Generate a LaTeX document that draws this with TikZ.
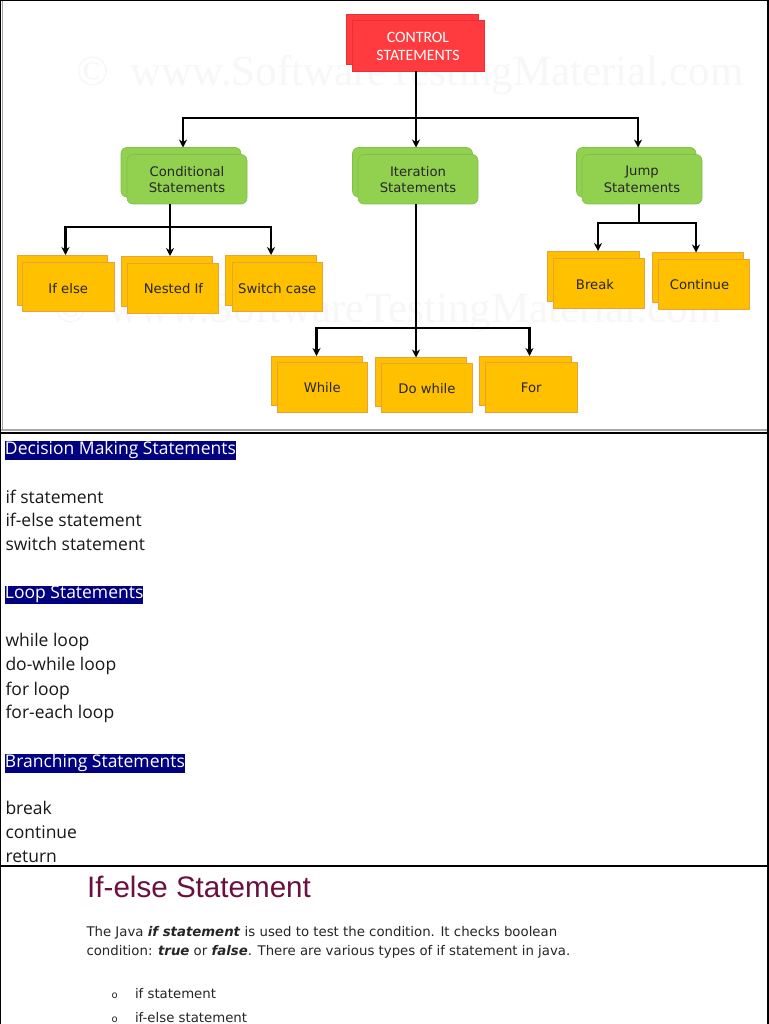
\documentclass[tikz,border=0pt]{standalone}
\usepackage{fontspec}
\setmainfont{DejaVu Sans}
\newfontfamily\calfont{Carlito}
\newfontfamily\notefont{Open Sans}
\newfontfamily\headfont{Liberation Sans}
\newfontfamily\markfont{Liberation Serif}
\usetikzlibrary{arrows.meta}
\definecolor{redfill}{HTML}{FF3B3F}
\definecolor{redline}{HTML}{E8303A}
\definecolor{greenfill}{HTML}{92D050}
\definecolor{greenline}{HTML}{7FBF4A}
\definecolor{orangefill}{HTML}{FFC000}
\definecolor{orangeline}{HTML}{E8A23C}
\definecolor{navyfill}{HTML}{000080}
\definecolor{titlecol}{HTML}{6B0F3F}
\definecolor{markcol}{HTML}{F7F7F7}
\newcommand{\fs}[1]{\fontsize{#1}{#1}\selectfont}
% \bx{name}{style}{x0}{y0}{x1}{y1}{text}
\newcommand{\bx}[7]{%
  \pgfmathsetmacro{\bxw}{#5-#3}\pgfmathsetmacro{\bxh}{#6-#4}%
  \pgfmathsetmacro{\bxc}{(#3+#5)/2}\pgfmathsetmacro{\bxm}{(#4+#6)/2}%
  \node[#2,minimum width=\bxw pt,minimum height=\bxh pt] (#1) at (\bxc,\bxm) {#7};}
% \lbl{dx}{dy}{text}: text moved by dx to the right and by dy upward, box size kept
\newcommand{\lbl}[3]{\hspace*{#1}\raisebox{#2}[\height][\depth]{#3}\hspace*{-#1}}
\tikzset{
  redbox/.style={draw=redline,fill=redfill,line width=0.6pt,inner sep=0pt,outer sep=0pt,align=center,text=white,font=\calfont\fs{15.8}},
  greenbox/.style={draw=greenline,fill=greenfill,line width=0.6pt,rounded corners=6pt,inner sep=0pt,outer sep=0pt,align=center,text=black!85,font=\fs{13.2}},
  orangebox/.style={draw=orangeline,fill=orangefill,line width=0.6pt,inner sep=0pt,outer sep=0pt,align=center,text=black!85,font=\fs{13.2}},
  bar/.style={line width=2.5pt,black,line join=miter},
  arrowbar/.style={bar,-{Stealth[length=8pt,width=8pt]}},
  frameline/.style={black,line width=2pt},
  heading/.style={fill=navyfill,text=white,inner sep=0pt,outer sep=0pt,font=\notefont\fs{17.5},anchor=base west,text height=13pt,text depth=5.5pt},
  note/.style={inner sep=0pt,outer sep=0pt,anchor=base west,text=black!90,font=\notefont\fs{17.5}},
  body/.style={inner sep=0pt,outer sep=0pt,anchor=base west,text=black!85,font=\fs{13.3}},
  watermark/.style={inner sep=0pt,text=markcol,font=\markfont\fs{43}}
}
\begin{document}
\begin{tikzpicture}[x=1pt,y=-1pt]
\useasboundingbox (0,0) rectangle (768,1024);
\fill[white] (0,0) rectangle (768,1024);
% watermarks
\node[watermark] (wm1) at (410,75) {©\ \ www.SoftwareTestingMaterial.com};
\node[watermark] (wm2) at (388,312) {©\ \ www.SoftwareTestingMaterial.com};
% frames
\draw[gray!70,line width=1.2pt] (2.2,0) -- (2.2,431);
\draw[gray!70,line width=1.2pt] (0,430) -- (768,430);
\draw[frameline] (0,0) -- (768,0);
\draw[frameline] (0,0) -- (0,1024);
\draw[frameline] (768,0) -- (768,1024);
\draw[frameline] (0,432.5) -- (768,432.5);
\draw[frameline] (0,866) -- (768,866);
% boxes
\bx{ctrlb}{redbox}{346}{14}{478}{64}{}
\bx{ctrlf}{redbox}{352}{20.5}{484}{71}{\lbl{0pt}{-1pt}{CONTROL}\\[2.5pt]\lbl{0pt}{-1pt}{STATEMENTS}}
\bx{condb}{greenbox}{121}{147.5}{241}{197}{}
\bx{condf}{greenbox}{127}{154.5}{247}{204}{Conditional\\[3pt]Statements}
\bx{iterb}{greenbox}{352.5}{147.5}{472.5}{197}{}
\bx{iterf}{greenbox}{358}{154.5}{478}{204}{Iteration\\[3pt]Statements}
\bx{jumpb}{greenbox}{576.5}{147.5}{696}{197}{}
\bx{jumpf}{greenbox}{582}{154.5}{702}{204}{Jump\\[3pt]Statements}
\bx{ifb}{orangebox}{17}{255}{107.5}{305}{}
\bx{iff}{orangebox}{22.5}{262}{114}{311}{\lbl{0pt}{-2pt}{If else}}
\bx{nestb}{orangebox}{121}{256}{212}{306}{}
\bx{nestf}{orangebox}{127}{263}{218}{313}{\lbl{1pt}{-1pt}{Nested If}}
\bx{swb}{orangebox}{225.5}{255}{316.5}{305}{}
\bx{swf}{orangebox}{232}{262}{322.5}{311}{\lbl{0pt}{-2pt}{Switch case}}
\bx{brkb}{orangebox}{547.5}{251}{639}{301}{}
\bx{brkf}{orangebox}{553.5}{258}{644.5}{308}{\lbl{-4pt}{-2pt}{Break}}
\bx{contb}{orangebox}{652.5}{252.5}{743}{302}{}
\bx{contf}{orangebox}{658}{259.5}{749}{309}{\lbl{-4pt}{0pt}{Continue}}
\bx{whb}{orangebox}{271}{356}{362}{405}{}
\bx{whf}{orangebox}{277}{362}{367.5}{412}{\lbl{0pt}{-1pt}{While}}
\bx{dob}{orangebox}{375.5}{357.5}{466.5}{406}{}
\bx{dof}{orangebox}{381.5}{363.5}{472.5}{412.5}{\lbl{0pt}{-1pt}{Do while}}
\bx{forb}{orangebox}{479.5}{356}{571}{405}{}
\bx{forf}{orangebox}{485.5}{362}{577}{412}{\lbl{0pt}{-1pt}{For}}
% connector junctions
\coordinate (top) at (416,118);
\coordinate (topl) at (183,118);
\coordinate (topr) at (638,118);
\coordinate (cj) at (170,227);
\coordinate (cjl) at (65.5,227);
\coordinate (cjr) at (271,227);
\coordinate (jj) at (639,223);
\coordinate (jjl) at (598,223);
\coordinate (jjr) at (696,223);
\coordinate (ij) at (416,328);
\coordinate (ijl) at (316.5,328);
\coordinate (ijr) at (529.5,328);
% connectors
\draw[bar] (ctrlf.south -| top) -- (top);
\draw[arrowbar] (top) -- (topl) -- (topl |- condb.north);
\draw[arrowbar] (top) -- (top |- iterb.north);
\draw[arrowbar] (top) -- (topr) -- (topr |- jumpb.north);
\draw[bar] (condf.south -| cj) -- (cj);
\draw[arrowbar] (cj) -- (cjl) -- (cjl |- ifb.north);
\draw[arrowbar] (cj) -- (cj |- nestb.north);
\draw[arrowbar] (cj) -- (cjr) -- (cjr |- swb.north);
\draw[bar] (jumpf.south -| jj) -- (jj);
\draw[arrowbar] (jj) -- (jjl) -- (jjl |- brkb.north);
\draw[arrowbar] (jj) -- (jjr) -- (jjr |- contb.north);
\draw[bar] (iterf.south -| ij) -- (ij);
\draw[arrowbar] (ij) -- (ijl) -- (ijl |- whb.north);
\draw[arrowbar] (ij) -- (ij |- dob.north);
\draw[arrowbar] (ij) -- (ijr) -- (ijr |- forb.north);
% notes
\node[heading] (h1) at (5,454) {Decision Making Statements};
\node[note] (n1) at (5.5,503) {if statement};
\node[note] (n2) at (5.5,526.5) {if-else statement};
\node[note] (n3) at (5.5,550.5) {switch statement};
\node[heading] (h2) at (5,598.5) {Loop Statements};
\node[note] (n4) at (5.5,646.5) {while loop};
\node[note] (n5) at (5.5,670.5) {do-while loop};
\node[note] (n6) at (5.5,695) {for loop};
\node[note] (n7) at (5.5,718.5) {for-each loop};
\node[heading] (h3) at (5,767) {Branching Statements};
\node[note] (n8) at (5.5,814.5) {break};
\node[note] (n9) at (5.5,838.5) {continue};
\node[note] (n10) at (5.5,862.5) {return};
% third panel
\node[inner sep=0pt,anchor=base west,text=titlecol,font=\headfont\fs{29.6}] (title) at (87,897) {If-else Statement};
\node[body] (b1) at (86.5,936) {The Java \textbf{\textit{if statement}} is used to test the condition. It checks boolean};
\node[body] (b2) at (86.5,955) {condition: \textbf{\textit{true}} or \textbf{\textit{false}}. There are various types of if statement in java.};
\node[body,font=\fs{10}] (o1) at (111.5,998) {o};
\node[body] (l1) at (135,998) {if statement};
\node[body,font=\fs{10}] (o2) at (111.5,1022.5) {o};
\node[body] (l2) at (135,1022) {if-else statement};
\end{tikzpicture}
\end{document}
